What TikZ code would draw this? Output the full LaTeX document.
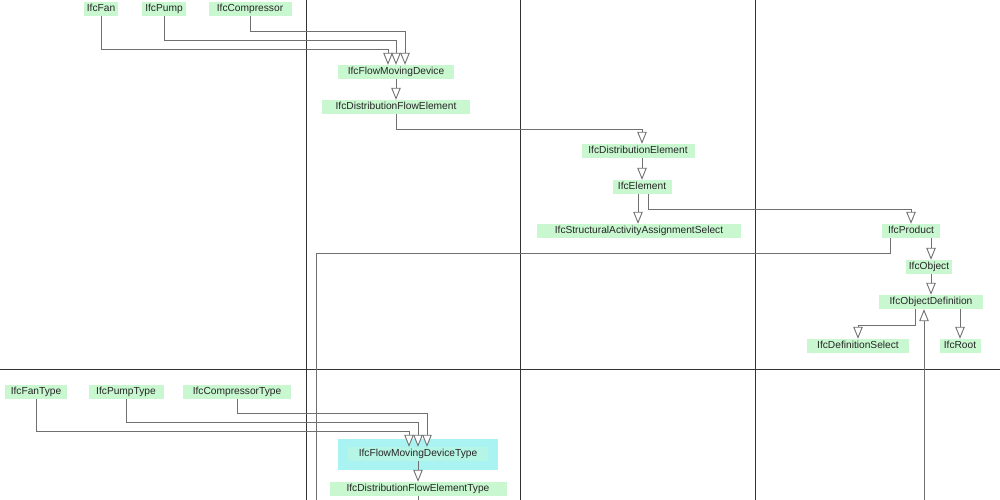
\documentclass[tikz,border=0pt]{standalone}
\usepackage{fontspec}
\setmainfont{Liberation Sans}
\usepackage{tikz}
\usetikzlibrary{calc,positioning,arrows.meta}
\definecolor{ifcgreen}{HTML}{C8F7D0}
\definecolor{ifccyan}{HTML}{A9F3F3}
\definecolor{ifcline}{HTML}{707070}
\tikzset{
 ifc entity/.style={fill=ifcgreen,inner xsep=3pt,inner ysep=2.25pt,
                    text height=7.5pt,text depth=2pt,font=\fontsize{10.2}{11}\selectfont,
                    text=black!85},
 ifc highlight/.style={fill=ifccyan,minimum width=160pt,minimum height=31pt,inner sep=0pt},
 ifc gen/.style={draw=ifcline,line width=.9pt,
                 -{Triangle[open,length=12pt,width=9.5pt,fill=white]}},
 ifc link/.style={draw=ifcline,line width=.9pt},
 ifc grid/.style={draw=black!80,line width=1pt}
}

\begin{document}
\begin{tikzpicture}[x=1pt,y=-1pt]
 \useasboundingbox (0,0) rectangle (1000,500);
 % grid
 \foreach \gx in {306,520,755}{\draw[ifc grid] (\gx,0)--(\gx,500);}
 \draw[ifc grid] (0,369)--(1000,369);

 % entities
 \node[ifc entity] (fan) at (101,9) {IfcFan};
 \node[ifc entity] (pump) at (164,9) {IfcPump};
 \node[ifc entity,minimum width=83pt] (comp) at (250,9) {IfcCompressor};
 \node[ifc entity,minimum width=116pt] (fmd) at (396,72) {IfcFlowMovingDevice};
 \node[ifc entity,minimum width=148pt] (dfe) at (396,107) {IfcDistributionFlowElement};
 \node[ifc entity,minimum width=113pt] (de) at (638,151) {IfcDistributionElement};
 \node[ifc entity,minimum width=59pt] (elem) at (642,187) {IfcElement};
 \node[ifc entity,minimum width=204pt] (sas) at (639,231) {IfcStructuralActivityAssignmentSelect};
 \node[ifc entity,minimum width=58pt] (prod) at (911,231) {IfcProduct};
 \node[ifc entity] (obj) at (929,267) {IfcObject};
 \node[ifc entity,minimum width=104pt] (objdef) at (931,302) {IfcObjectDefinition};
 \node[ifc entity,minimum width=102pt] (defsel) at (858,346) {IfcDefinitionSelect};
 \node[ifc entity,minimum width=41pt] (root) at (960,346) {IfcRoot};

 \node[ifc entity,minimum width=62pt] (fant) at (36,392) {IfcFanType};
 \node[ifc entity,minimum width=75pt] (pumpt) at (126,392) {IfcPumpType};
 \node[ifc entity,minimum width=108pt] (compt) at (237,392) {IfcCompressorType};
 \node[ifc highlight] (fmdthl) at (418,454) {};
 \node[ifc entity,minimum width=140pt,fill=ifcgreen!40!ifccyan] (fmdt) at (418,454) {IfcFlowMovingDeviceType};
 \node[ifc entity,minimum width=177pt] (dfet) at (418,489) {IfcDistributionFlowElementType};

 \coordinate (elemL) at ([xshift=-4pt]elem.south);
 \coordinate (elemR) at ([xshift=6pt]elem.south);
 \coordinate (deout) at ([xshift=4pt]de.south);
 \coordinate (prodR) at ([xshift=20pt]prod.south);
 \coordinate (prodL) at ([xshift=-21pt]prod.south);
 \coordinate (objout) at ([xshift=2pt]obj.south);
 \coordinate (objdefL) at ([xshift=-16pt]objdef.south);
 \coordinate (prodout) at (316,500);
 \coordinate (objdefin) at (924,500);
 \coordinate (dfetout) at (418,500);

 % generalizations
 \foreach \s/\dx/\dy in {fan/-8/33,pump/0/24,comp/9/15}{
   \draw[ifc gen] (\s.south) -- ++(0,\dy) -| ([xshift=\dx pt]fmd.north);
 }
 \draw[ifc gen] (fmd) -- (dfe);
 \draw[ifc gen] (dfe.south) -- ++(0,15) -| ([xshift=4pt]de.north);
 \draw[ifc gen] (deout) -- (deout |- elem.north);
 \draw[ifc gen] (elemL) -- (elemL |- sas.north);
 \draw[ifc gen] (elemR) -- ++(0,15) -| (prod.north);
 \draw[ifc gen] (prodR) -- (prodR |- obj.north);
 \draw[ifc gen] (objout) -- (objout |- objdef.north);
 \draw[ifc gen] (objdefL) -- ++(0,16) -| (defsel.north);
 \draw[ifc gen] (objdef.south -| root.north) -- (root.north);
 \draw[ifc gen] (objdefin) -- (objdefin |- objdef.south);
 \draw[ifc link] (prodL) -- ++(0,15) -| (prodout);

 \foreach \s/\dx/\dy in {fant/-9/32,pumpt/0/23,compt/9/14}{
   \draw[ifc gen] (\s.south) -- ++(0,\dy) -| ([xshift=\dx pt]fmdt.north);
 }
 \draw[ifc gen] (fmdt) -- (dfet);
 \draw[ifc link] (dfet.south) -- (dfetout);
\end{tikzpicture}
\end{document}
